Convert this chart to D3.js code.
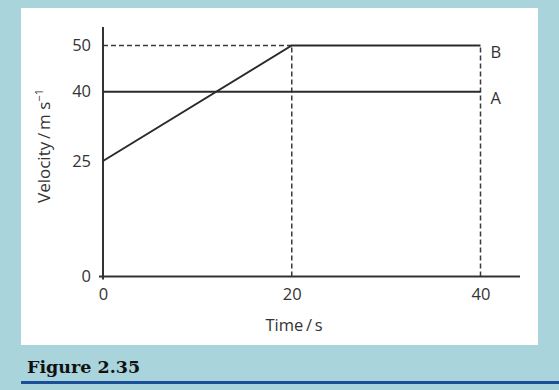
<!doctype html>
<html lang="en">
<head>
  <meta charset="UTF-8">
  <title>Figure 2.35</title>
  <script src="https://cdn.jsdelivr.net/npm/d3@7"></script>
  <style>
    body { margin: 0; background: #a9d4dc; }
    text { font-family: "Open Sans", "Noto Sans", sans-serif; fill: #333; }
  </style>
</head>
<body>
<div id="container"></div>
<script type="text/javascript">
// velocity-time data for the two cars
var xTicks = [0, 20, 40];
var yTicks = [0, 25, 40, 50];
var lineA = [[0, 40], [40, 40]];
var lineB = [[0, 25], [20, 50], [40, 50]];
var guides = [
  [[0, 50], [20, 50]],
  [[20, 0], [20, 50]],
  [[40, 0], [40, 50]]
];
var labels = [{ name: 'A', t: 40, v: 40 }, { name: 'B', t: 40, v: 50 }];

var W = 559, H = 390;
var svg = d3.select('#container').append('svg')
  .attr('width', W)
  .attr('height', H);

svg.append('rect')
  .attr('x', 0).attr('y', 0)
  .attr('width', W).attr('height', H)
  .attr('fill', '#a9d4dc');

// white panel
svg.append('rect')
  .attr('x', 21).attr('y', 8)
  .attr('width', 517).attr('height', 337)
  .attr('fill', '#fff');

var x = d3.scaleLinear().domain([0, 40]).range([103, 480.5]);
var y = d3.scaleLinear().domain([0, 50]).range([276.5, 45.5]);

var line = d3.line()
  .x(function(d) { return x(d[0]); })
  .y(function(d) { return y(d[1]); });

// dashed guide lines
svg.selectAll('.guide').data(guides).enter()
  .append('path')
  .attr('class', 'guide')
  .attr('d', line)
  .attr('fill', 'none')
  .attr('stroke', '#3a3a3a')
  .attr('stroke-width', 1.5)
  .attr('stroke-dasharray', '5,3');

// axes
var yAxis = d3.axisLeft(y).tickValues(yTicks).tickSize(0).tickPadding(12);
var gy = svg.append('g').attr('transform', 'translate(' + x(0) + ',0)').call(yAxis);
gy.select('.domain').remove();
gy.selectAll('text').style('font-size', '16.5px').style('fill', '#333')
  .style('font-family', '"Open Sans", sans-serif');

var xAxis = d3.axisBottom(x).tickValues(xTicks).tickSize(0).tickPadding(12);
var gx = svg.append('g').attr('transform', 'translate(0,' + y(0) + ')').call(xAxis);
gx.select('.domain').remove();
gx.selectAll('text').style('font-size', '16.5px').style('fill', '#333')
  .style('font-family', '"Open Sans", sans-serif');

svg.append('line')
  .attr('x1', x(0)).attr('x2', x(0))
  .attr('y1', 27).attr('y2', y(0) + 3)
  .attr('stroke', '#333').attr('stroke-width', 2);
svg.append('line')
  .attr('x1', x(0) - 4).attr('x2', 520)
  .attr('y1', y(0)).attr('y2', y(0))
  .attr('stroke', '#333').attr('stroke-width', 2);

// data lines
[lineA, lineB].forEach(function(d) {
  svg.append('path')
    .attr('d', line(d))
    .attr('fill', 'none')
    .attr('stroke', '#2b2b2b')
    .attr('stroke-width', 2);
});

svg.selectAll('.lab').data(labels).enter()
  .append('text')
  .attr('class', 'lab')
  .attr('x', function(d) { return x(d.t) + 10; })
  .attr('y', function(d) { return y(d.v) + 12; })
  .style('font-size', '16.5px')
  .text(function(d) { return d.name; });

// axis titles
svg.append('text')
  .attr('x', 294).attr('y', 331)
  .attr('text-anchor', 'middle')
  .style('font-size', '16.5px')
  .text('Time\u2009/\u2009s');

var vt = svg.append('text')
  .attr('transform', 'translate(50,146) rotate(-90)')
  .attr('text-anchor', 'middle')
  .style('font-size', '17px');
vt.append('tspan').text('Velocity\u2009/\u2009m s');
vt.append('tspan').attr('dy', -7).style('font-size', '11px').text('\u22121');

// caption
svg.append('text')
  .attr('x', 27).attr('y', 373)
  .style('font-family', '"DejaVu Serif", serif')
  .style('font-weight', 'bold')
  .style('font-size', '17.5px')
  .style('fill', '#111')
  .text('Figure 2.35');

svg.append('rect')
  .attr('x', 21).attr('y', 381)
  .attr('width', W - 21).attr('height', 3)
  .attr('fill', '#1a4f98');
</script>
</body>
</html>
